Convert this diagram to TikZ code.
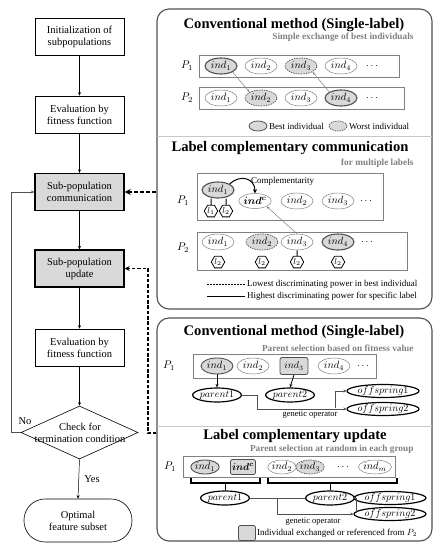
\RequirePackage{fix-cm}
\documentclass[tikz,border=0pt]{standalone}
\usepackage{bm}
\usepackage{fontspec}
\setmainfont{Liberation Serif}
\usetikzlibrary{shapes.geometric,arrows.meta,calc}
\definecolor{lg}{RGB}{217,217,217}
\definecolor{mg}{RGB}{128,128,128}
\definecolor{dg}{RGB}{80,80,80}
\definecolor{lline}{RGB}{200,200,200}
\newcommand\fsz[2]{\fontsize{#1}{#2}\selectfont}
\tikzset{
 flow/.style={draw=black, line width=0.6pt, minimum width=89, minimum height=37, align=center, font=\fsz{10.5}{12}, inner sep=1pt},
 gflow/.style={flow, fill=lg, line width=1.3pt},
 farr/.style={draw=black, line width=0.5pt, -{Stealth[length=3.5pt,width=3pt]}},
 loopl/.style={draw=dg, line width=0.6pt, -{Stealth[length=3.5pt,width=3pt]}},
 panel/.style={draw=dg, line width=1.1pt, rounded corners=12},
 divl/.style={draw=lline, line width=1pt},
 rowb/.style={draw=mg, line width=0.8pt},
 ind/.style={ellipse, draw=mg, line width=0.5pt, minimum width=32, minimum height=16, inner sep=0pt, font=\fsz{10.5}{11}},
 best/.style={ind, fill=lg, draw=dg, line width=1.1pt},
 worst/.style={ind, fill=lg, draw=dg, line width=0.7pt, dash pattern=on 1.5pt off 1pt},
 gsq/.style={draw=dg, fill=lg, line width=0.8pt, rounded corners=2, minimum width=26, minimum height=16, inner sep=0pt, font=\fsz{10}{11}},
 ttl/.style={font=\fsz{14.6}{16}\bfseries},
 subt/.style={font=\fsz{9.3}{11}\bfseries, text=mg, anchor=east},
 plab/.style={font=\fsz{11}{12}},
 hexa/.style={regular polygon, regular polygon sides=6, draw=black, line width=0.8pt, minimum size=13.5, inner sep=0pt, font=\fsz{8.5}{9}},
 par/.style={ellipse, draw=black, line width=1.2pt, minimum width=46, minimum height=14, inner sep=0pt, font=\fsz{10}{11}},
 offs/.style={par, minimum width=58, minimum height=13},
 gop/.style={draw=dg, line width=0.7pt},
 goparr/.style={gop, -{Stealth[length=3pt,width=3pt]}},
 parr/.style={draw=black, line width=0.8pt, -{Stealth[length=3.5pt,width=3pt]}},
 garr/.style={draw=mg, line width=0.5pt, -{Stealth[length=3pt,width=2.5pt]}},
 legt/.style={font=\fsz{9}{10}, anchor=west, inner sep=1pt},
 smt/.style={font=\fsz{8.5}{10}},
 dots/.style={font=\fsz{10}{11}},
 dasharr/.style={draw=black, line width=1.6pt, dash pattern=on 4pt off 2pt, -{Stealth[length=6pt,width=6pt]}},
 dasharrb/.style={draw=black, line width=1.2pt, dash pattern=on 3.5pt off 1.8pt, -{Stealth[length=5pt,width=5pt]}},
}
\begin{document}
\begin{tikzpicture}[x=1pt,y=-1pt]
\useasboundingbox (0,0) rectangle (434,550);
% ---------- left flow ----------
\node[flow] (box1) at (79.5,36.5) {Initialization of\\subpopulations};
\node[flow] (box2) at (79.5,114.5) {Evaluation by\\fitness function};
\node[gflow] (box3) at (79.5,192) {Sub-population\\communication};
\node[gflow] (box4) at (79.5,268.5) {Sub-population\\update};
\node[flow] (box5) at (79.5,347.5) {Evaluation by\\fitness function};
\node[diamond, draw=black, line width=0.6pt, minimum width=117, minimum height=53, inner sep=0pt] (dia) at (79.5,432.5) {};
\node[font=\fsz{10.5}{12}, align=center] (diat) at (80,433) {Check for\\termination condition};
\node[draw=black, line width=0.6pt, rounded corners=21, minimum width=108, minimum height=43, align=center, font=\fsz{10.5}{12}] (term) at (78,520.5) {Optimal\\feature subset};
\draw[farr] (box1) -- (box2);
\draw[farr] (box2) -- (box3);
\draw[farr] (box3) -- (box4);
\draw[farr] (box4) -- (box5);
\draw[farr] (box5) -- (dia);
\draw[farr] (dia.south) -- node[right, font=\fsz{10.5}{12}, xshift=2pt] {Yes} (term.north);
\draw[loopl] (dia.west) -- ++(-9,0) |- (box3.west);
\node[font=\fsz{10.5}{12}] (nolab) at (25,421) {No};
% ---------- panels ----------
\node[panel, minimum width=275, minimum height=300] (pan1) at (294.5,159) {};
\node[panel, minimum width=275, minimum height=223] (pan2) at (294.5,429.5) {};
\coordinate (d1) at (0,136);
\coordinate (d2) at (0,426);
\draw[divl] ($(pan1.west |- d1)+(1,0)$) -- ($(pan1.east |- d1)+(-1,0)$);
\draw[divl] ($(pan2.west |- d2)+(1,0)$) -- ($(pan2.east |- d2)+(-1,0)$);
% dashed connectors
\draw[dasharr] (pan1.west |- box3.east) -- (box3.east);
\coordinate (dk) at (148,433);
\draw[dasharrb] (pan2.west |- dk) -- (dk) |- (box4.east);
% ---------- section 1 ----------
\node[ttl] (t1) at (294,25) {Conventional method (Single-label)};
\node[subt] (s1) at (417,37.5) {Simple exchange of best individuals};
\node[rowb, minimum width=200, minimum height=22] (r1) at (299,66) {};
\node[rowb, minimum width=205, minimum height=22] (r2) at (301.5,98) {};
\node[plab] (p1a) at (187,66) {$P_1$};
\node[plab] (p2a) at (187,98) {$P_2$};
\node[best] (a11) at (221,66) {$ind_1$};
\node[ind] (a12) at (261,66) {$ind_2$};
\node[worst] (a13) at (301,66) {$ind_3$};
\node[ind] (a14) at (341,66) {$ind_4$};
\node[dots] (a15) at (372,66) {$\cdots$};
\node[ind] (a21) at (221,98) {$ind_1$};
\node[worst] (a22) at (261,98) {$ind_2$};
\node[ind] (a23) at (301,98) {$ind_3$};
\node[best] (a24) at (341,98) {$ind_4$};
\node[dots] (a25) at (372,98) {$\cdots$};
\draw[garr] (a11.south east) -- (a22.north west);
\draw[garr] (a24.north west) -- (a13.south east);
\node[best, minimum width=18, minimum height=10, line width=0.8pt] (lg1) at (258,126) {};
\node[legt] (lt1) at (268,126) {Best individual};
\node[worst, minimum width=18, minimum height=10] (lg2) at (338,126) {};
\node[legt] (lt2) at (348,126) {Worst individual};
% ---------- section 2 ----------
\node[ttl] (t2) at (290,148) {Label complementary communication};
\node[subt] (s2) at (417,163.5) {for multiple labels};
\node[rowb, minimum width=186, minimum height=47] (r3) at (290,196.5) {};
\node[rowb, minimum width=210, minimum height=38] (r4) at (302,251) {};
\node[plab] (p1b) at (183,201) {$P_1$};
\node[plab] (p2b) at (183,248) {$P_2$};
\node[best] (b1) at (218,190) {$ind_1$};
\node[hexa] (h1) at (211,211) {$l_1$};
\node[hexa] (h2) at (226,211) {$l_2$};
\draw[line width=1pt] (b1.south -| h1) -- (h1.north);
\draw[line width=1pt] (b1.south -| h2) -- (h2.north);
\node[ind, minimum width=30, minimum height=15] (bc) at (255,201) {$\bm{ind}^{\bm{c}}$};
\node[ind] (b2) at (297,201) {$ind_2$};
\node[ind] (b3) at (338,201) {$ind_3$};
\node[dots] (b4) at (366,201) {$\cdots$};
\node[legt] (comp) at (250,181) {Complementarity};
\draw[line width=1pt, -{Stealth[length=4pt,width=4pt]}] (b1.north east) .. controls (240,174) and (255,178) .. (bc.north);
\node[ind] (c1) at (218,242) {$ind_1$};
\node[worst] (c2) at (262,242) {$ind_2$};
\node[ind] (c3) at (297,242) {$ind_3$};
\node[best] (c4) at (338,242) {$ind_4$};
\node[dots] (c5) at (367,242) {$\cdots$};
\node[hexa] (hc1) at (218,262) {$l_2$};
\node[hexa] (hc2) at (262,262) {$l_2$};
\node[hexa] (hc3) at (297,262) {$l_2$};
\node[hexa] (hc4) at (338,262) {$l_2$};
\draw[line width=1pt] (c3.south) -- (hc3.north);
\draw[garr] (c3.north) -- (bc.south east);
\coordinate (la1) at (207,284);
\coordinate (la2) at (245,284);
\coordinate (lb1) at (207,296);
\coordinate (lb2) at (245,296);
\draw[line width=0.9pt, dash pattern=on 2pt off 1pt] (la1) -- (la2);
\draw[line width=1pt] (lb1) -- (lb2);
\node[legt] (lt3) at (246,284) {Lowest discriminating power in best individual};
\node[legt] (lt4) at (246,296) {Highest discriminating power for specific label};
% ---------- section 3 ----------
\node[ttl] (t3) at (294,332) {Conventional method (Single-label)};
\node[subt] (s3) at (417,348) {Parent selection based on fitness value};
\node[rowb, minimum width=183, minimum height=24] (r5) at (284.5,366.5) {};
\node[plab] (p1c) at (169,366) {$P_1$};
\node[best, line width=0.9pt] (e1) at (217,366) {$ind_1$};
\node[ind] (e2) at (253,366) {$ind_2$};
\node[gsq, minimum width=28, minimum height=17] (e3) at (294,366) {$ind_3$};
\node[ind] (e4) at (334,366) {$ind_4$};
\node[dots] (e5) at (363,366) {$\cdots$};
\node[par] (pa1) at (217,395) {$parent1$};
\node[par, minimum width=42] (pa2) at (290,395) {$parent2$};
\draw[parr] (e1.south) -- (pa1.north);
\draw[parr] (e3.south) -- (pa2.north);
\node[offs] (of1) at (383,391) {$offspring1$};
\node[offs] (of2) at (383,409) {$offspring2$};
\coordinate (g1) at (257,395);
\coordinate (g2) at (335,408);
\draw[goparr] (pa1.east) -- (g1) |- (of2.west);
\draw[goparr] (g2) |- (of1.west);
\node[smt] (go1) at (310,414.5) {genetic operator};
% ---------- section 4 ----------
\node[ttl] (t4) at (295,436) {Label complementary update};
\node[subt] (s4) at (417,449.5) {Parent selection at random in each group};
\node[rowb, minimum width=212, minimum height=21] (r6) at (289,467) {};
\node[plab] (p1d) at (170,467) {$P_1$};
\node[best, minimum width=28, minimum height=14, line width=0.9pt] (f1) at (205,467) {$ind_1$};
\node[gsq, minimum width=25, minimum height=15] (fc) at (243,467) {$\bm{ind}^{\bm{c}}$};
\node[ind, minimum width=28, minimum height=14] (f2) at (282,467) {$ind_2$};
\node[worst, minimum width=27, minimum height=14] (f3) at (310,467) {$ind_3$};
\node[dots] (f4) at (343,467) {$\cdots$};
\node[ind, minimum width=33, minimum height=14] (fm) at (375,467) {$ind_m$};
\node[par, minimum width=45] (q1) at (225,498) {$parent1$};
\node[par, minimum width=46] (q2) at (330,498) {$parent2$};
\draw[line width=1.1pt] (191,478) -- (191,483) -- (260,483) -- (260,478);
\draw[line width=1.1pt] (268,478) -- (268,483) -- (397,483) -- (397,478);
\draw[line width=1pt] (q1.north |- 0,483) -- (q1.north);
\draw[line width=1pt] (q2.north |- 0,483) -- (q2.north);
\node[offs, minimum width=56] (og1) at (390,498) {$offspring1$};
\node[offs, minimum width=56] (og2) at (390,514) {$offspring2$};
\coordinate (k1) at (277,498);
\coordinate (k2) at (356,513);
\draw[gop] (q1.east) -- (q2.west);
\draw[goparr] (k1) |- (og2.west);
\draw[goparr] (k2) |- (og1.west);
\node[smt] (go2) at (313,521.5) {genetic operator};
\node[gsq, minimum width=17, minimum height=15] (lsq) at (247,533) {};
\node[legt] (lt5) at (256,533) {Individual exchanged or referenced from $P_2$};
\end{tikzpicture}
\end{document}
